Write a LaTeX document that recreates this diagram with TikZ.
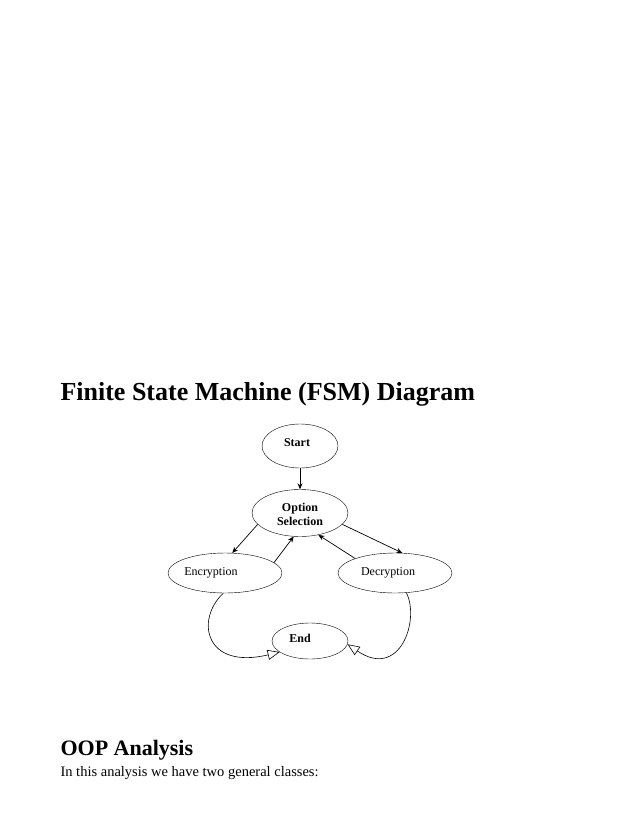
\documentclass[tikz,border=0pt]{standalone}
\usepackage{fontspec}
\setmainfont{Liberation Serif}
\usetikzlibrary{arrows.meta,shapes.geometric}
\begin{document}
\begin{tikzpicture}[x=1pt,y=-1pt,
  st/.style={draw,ellipse,inner sep=0pt},
  lab/.style={font=\fontsize{12}{13}\selectfont},
  ar/.style={-{Stealth[length=6pt,width=5pt]},line width=0.7pt},
  oar/.style={-{Triangle[open,length=12pt,width=10pt]},line width=0.6pt}]
\useasboundingbox (0,0) rectangle (638,826);
\node[anchor=base west,font=\fontsize{26}{30}\selectfont\bfseries] (t1) at (57,400) {Finite State Machine (FSM) Diagram};
\node[anchor=base west,font=\fontsize{22}{26}\selectfont\bfseries] (t2) at (57,755) {OOP Analysis};
\node[anchor=base west,font=\fontsize{14.5}{17}\selectfont] (t3) at (57,776) {In this analysis we have two general classes:};
\node[st,minimum width=76pt,minimum height=44pt] (s) at (300,446) {};
\node[lab,font=\fontsize{12}{13}\selectfont\bfseries] (sl) at (297,443) {Start};
\node[st,minimum width=96pt,minimum height=47pt] (o) at (300,513) {};
\node[lab,font=\fontsize{12}{14}\selectfont\bfseries,align=center] (ol) at (300,514) {Option\\Selection};
\node[st,minimum width=114pt,minimum height=40pt] (e) at (225,573) {};
\node[lab] (el) at (211,573) {Encryption};
\node[st,minimum width=114pt,minimum height=40pt] (d) at (395,573) {};
\node[lab] (dl) at (388,573) {Decryption};
\node[st,minimum width=76pt,minimum height=36pt] (n) at (310,641) {};
\node[lab,font=\fontsize{12}{13}\selectfont\bfseries] (nl) at (300,638) {End};
\draw[ar] (s.south) -- (o.north);
\draw[ar] (o.195) -- (e.70);
\draw[ar] (e.12) -- (o.255);
\draw[ar] (d.160) -- (o.310);
\draw[ar] (o.-15) -- (d.70);
\draw[oar] (e.-95) .. controls (195,620) and (205,670) .. (n.200);
\draw[oar] (d.-60) .. controls (420,620) and (400,680) .. (n.-5);
\end{tikzpicture}
\end{document}
